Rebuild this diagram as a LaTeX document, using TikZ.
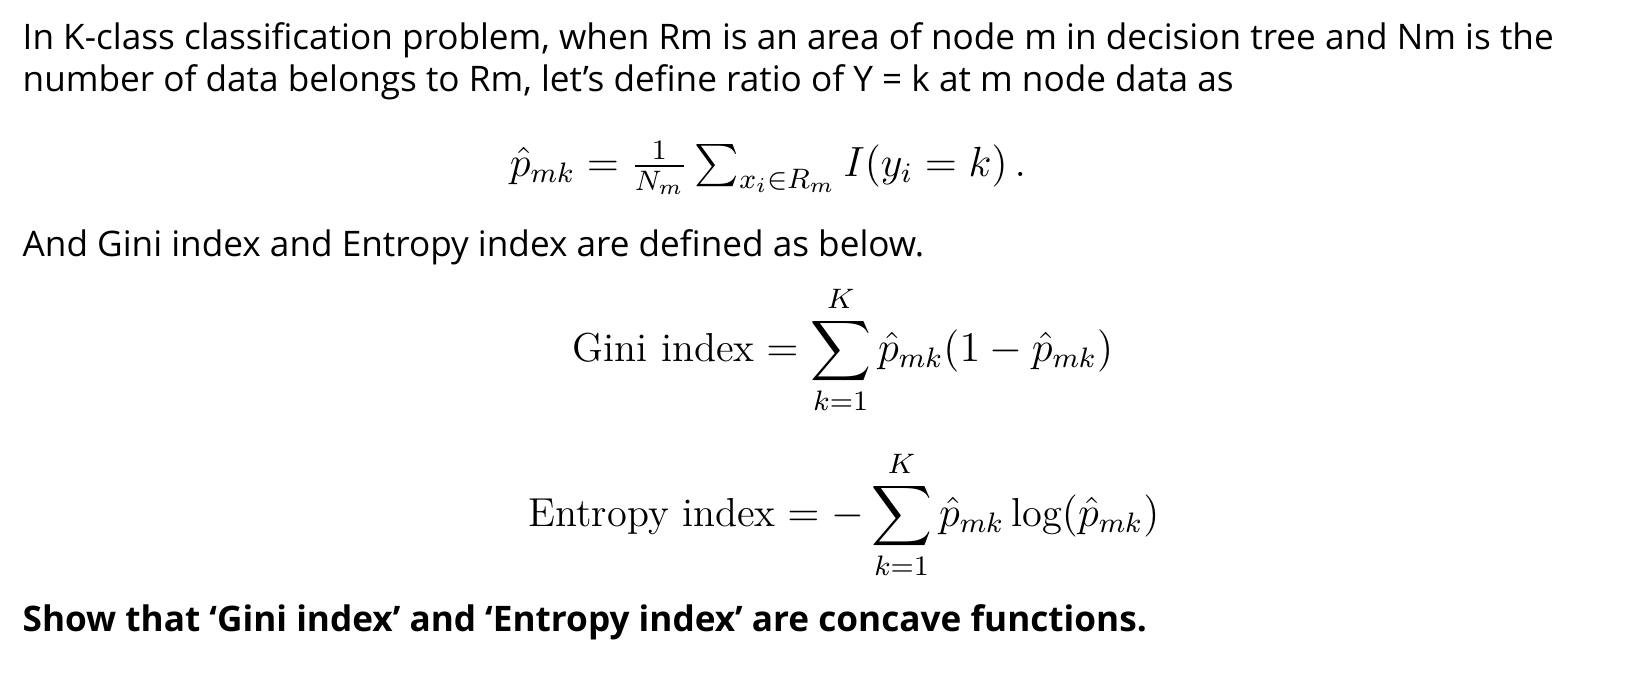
\documentclass[tikz,border=0pt]{standalone}
\usepackage{amsmath}
\usepackage{fontspec}
\newfontfamily\bodyfont{Open Sans}
\begin{document}
\begin{tikzpicture}[x=0.01cm,y=-0.01cm,
  txt/.style={anchor=base west,inner sep=0pt,font=\bodyfont\fontsize{10}{12}\selectfont},
  eq/.style={inner sep=0pt,font=\fontsize{11.5}{14}\selectfont}]
\node[txt] (l1) at (22,50) {In K-class classification problem, when Rm is an area of node m in decision tree and Nm is the};
\node[txt] (l2) at (22,92) {number of data belongs to Rm, let’s define ratio of Y = k at m node data as};
\node[eq] (e1) at (768,168) {$\hat{p}_{mk} = \tfrac{1}{N_m}\textstyle\sum_{x_i\in R_m} I(y_i = k)\,.$};
\node[txt] (l3) at (22,257) {And Gini index and Entropy index are defined as below.};
\node[eq] (e2) at (843,350) {$\displaystyle \text{Gini index} = \sum_{k=1}^{K} \hat{p}_{mk}(1-\hat{p}_{mk})$};
\node[eq] (e3) at (844,515) {$\displaystyle \text{Entropy index} = -\sum_{k=1}^{K} \hat{p}_{mk}\log(\hat{p}_{mk})$};
\node[txt,font=\bodyfont\bfseries\fontsize{10}{12}\selectfont] (l4) at (22,632) {Show that ‘Gini index’ and ‘Entropy index’ are concave functions.};
\pgfresetboundingbox
\useasboundingbox (0,0) rectangle (1625,674);
\end{tikzpicture}
\end{document}
